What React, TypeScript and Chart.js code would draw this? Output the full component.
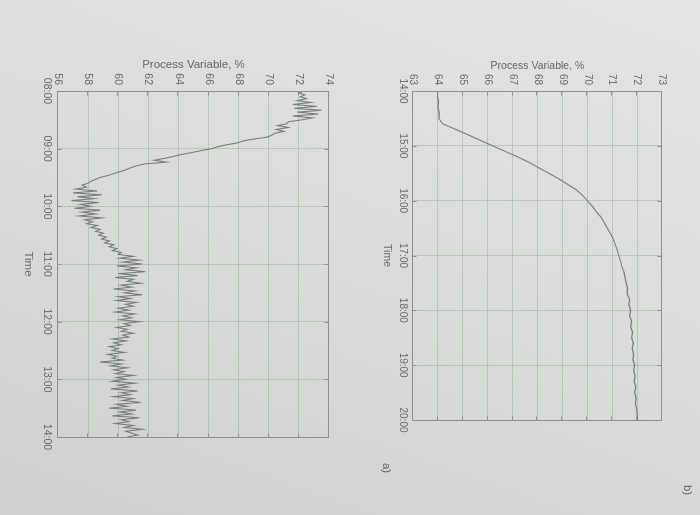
import React, { useEffect, useRef } from "react";
import { Chart, registerables } from "chart.js";

Chart.register(...registerables);

// ---------- Data: chart a) ----------
const A_START_H = 14; // first sample, hours
const A_STEP_H = 0.1; // sample interval, hours (6 min)
const A_PV = [
  64.0, 63.98, 64.03, 64.0, 64.06, 64.04, 64.2, 64.72, 65.22, 65.7,
  66.2, 66.7, 67.2, 67.65, 68.05, 68.45, 68.85, 69.2, 69.55, 69.8,
  70.0, 70.2, 70.36, 70.55, 70.68, 70.8, 70.93, 71.04, 71.12, 71.2,
  71.26, 71.33, 71.38, 71.47, 71.52, 71.56, 71.62, 71.6, 71.7, 71.67,
  71.74, 71.7, 71.78, 71.74, 71.82, 71.78, 71.85, 71.8, 71.86, 71.83,
  71.9, 71.86, 71.92, 71.88, 71.95, 71.9, 71.96, 71.93, 71.98, 72.0,
  72.02,
];
const A_TIME_TICKS = [14, 15, 16, 17, 18, 19, 20];
const A_TIME_LABELS = ["14:00", "15:00", "16:00", "17:00", "18:00", "19:00", "20:00"];
const A_PV_MIN = 63;
const A_PV_MAX = 73;
const A_PV_STEP = 1;

// ---------- Data: chart b) ----------
const B_START_H = 8;
const B_STEP_H = 2 / 60; // 2-minute samples
const B_PV = [
  72.3, 72.0, 72.4, 72.1, 72.5, 71.9, 72.8, 71.6, 73.2, 71.7,
  73.5, 71.9, 73.3, 71.6, 72.9, 72.2, 71.3, 71.2, 70.6, 71.3,
  70.5, 71.0, 70.4, 70.2, 69.9, 69.0, 68.3, 67.9, 67.2, 66.6,
  66.2, 65.5, 64.9, 64.2, 63.7, 63.1, 62.4, 63.2, 61.7, 61.2,
  60.8, 60.5, 60.1, 59.7, 59.3, 58.8, 58.5, 58.2, 58.0, 57.6,
  57.9, 57.2, 58.6, 57.0, 58.9, 57.3, 58.4, 56.9, 58.7, 57.5,
  58.2, 57.1, 58.8, 57.6, 58.5, 57.4, 58.9, 57.8, 58.3, 57.9,
  58.6, 58.2, 58.8, 58.5, 59.0, 58.7, 59.2, 58.9, 59.4, 59.1,
  59.7, 59.4, 59.9, 59.6, 60.2, 60.0, 61.0, 60.1, 61.4, 60.3,
  61.6, 59.9, 61.2, 60.5, 61.8, 60.0, 61.3, 59.8, 61.0, 60.6,
  61.5, 60.2, 60.9, 59.7, 61.1, 60.4, 61.6, 60.0, 60.8, 59.9,
  61.2, 60.5, 61.0, 60.0, 60.7, 59.8, 61.1, 60.3, 60.9, 60.1,
  61.4, 60.4, 60.8, 59.9, 60.6, 60.2, 61.0, 60.3, 60.7, 59.6,
  60.5, 59.7, 60.2, 59.4, 60.0, 59.6, 60.4, 59.3, 59.9, 59.6,
  60.3, 58.8, 60.2, 59.5, 60.6, 59.7, 60.4, 59.8, 61.0, 59.9,
  60.5, 59.6, 61.1, 60.0, 60.7, 59.5, 61.3, 60.2, 60.8, 59.7,
  61.0, 60.3, 61.5, 59.9, 60.6, 59.4, 61.2, 60.1, 60.9, 59.6,
  61.4, 60.2, 60.7, 59.8, 61.0, 60.4, 61.6, 60.5, 60.9, 61.3,
  60.6,
];
const B_TIME_TICKS = [8, 9, 10, 11, 12, 13, 14];
const B_TIME_LABELS = ["08:00", "09:00", "10:00", "11:00", "12:00", "13:00", "14:00"];
const B_PV_MIN = 56;
const B_PV_MAX = 74;
const B_PV_STEP = 2;

const Y_TITLE = "Process Variable, %";
const X_TITLE = "Time";

// ---------- Styles ----------
const FONT = "'Liberation Sans', Arial, sans-serif";
const TEXT = "#666966";
const GRID = "rgba(135,140,135,0.33)";
const BOX = "#8d908d";
const LINE = "#7a7d7a";

const boxPlugin = {
  id: "matlabBox",
  afterDatasetsDraw(chart: any) {
    const { ctx, chartArea: a, scales } = chart;
    ctx.save();
    ctx.strokeStyle = BOX;
    ctx.lineWidth = 1;
    const l = Math.round(a.left) + 0.5;
    const t = Math.round(a.top) + 0.5;
    const r = Math.round(a.right) + 0.5;
    const b = Math.round(a.bottom) + 0.5;
    ctx.strokeRect(l, t, r - l, b - t);
    const L = 4;
    ctx.beginPath();
    scales.x.ticks.forEach((tk: any) => {
      const px = Math.round(scales.x.getPixelForValue(tk.value)) + 0.5;
      ctx.moveTo(px, b);
      ctx.lineTo(px, b - L);
      ctx.moveTo(px, t);
      ctx.lineTo(px, t + L);
    });
    scales.y.ticks.forEach((tk: any) => {
      const py = Math.round(scales.y.getPixelForValue(tk.value)) + 0.5;
      ctx.moveTo(l, py);
      ctx.lineTo(l + L, py);
      ctx.moveTo(r, py);
      ctx.lineTo(r - L, py);
    });
    ctx.stroke();
    ctx.restore();
  },
};

type Cfg = {
  start: number;
  step: number;
  values: number[];
  timeTicks: number[];
  timeLabels: string[];
  yMin: number;
  yMax: number;
  yStep: number;
  width: number;
  height: number;
  padTop: number;
  padRight: number;
  yAxisW: number;
  xAxisH: number;
  tickSize: number;
  titleSize: number;
  yTitlePad: number;
  xTitlePad: number;
  yTickPad: number;
  xTickPad: number;
  top: number;
};

function PVChart({ cfg }: { cfg: Cfg }) {
  const ref = useRef<HTMLCanvasElement | null>(null);
  useEffect(() => {
    if (!ref.current) return;
    const pts = cfg.values.map((v, i) => ({ x: cfg.start + i * cfg.step, y: v }));
    const chart = new Chart(ref.current, {
      type: "line",
      data: {
        datasets: [
          {
            data: pts,
            borderColor: LINE,
            borderWidth: 1.1,
            pointRadius: 0,
            tension: 0,
            fill: false,
          },
        ],
      },
      options: {
        animation: false,
        responsive: false,
        maintainAspectRatio: false,
        events: [],
        layout: { padding: { top: cfg.padTop, right: cfg.padRight, left: 0, bottom: 0 } },
        plugins: { legend: { display: false }, tooltip: { enabled: false } },
        scales: {
          x: {
            type: "linear",
            position: "bottom",
            min: cfg.timeTicks[0],
            max: cfg.timeTicks[cfg.timeTicks.length - 1],
            afterBuildTicks: (s: any) => {
              s.ticks = cfg.timeTicks.map((v) => ({ value: v }));
            },
            afterFit: (s: any) => {
              s.height = cfg.xAxisH;
            },
            ticks: {
              autoSkip: false,
              maxRotation: 0,
              minRotation: 0,
              padding: cfg.xTickPad,
              color: TEXT,
              font: { family: FONT, size: cfg.tickSize },
              callback: (v: any) => {
                const i = cfg.timeTicks.indexOf(Number(v));
                return i >= 0 ? cfg.timeLabels[i] : "";
              },
            },
            grid: { color: GRID, drawTicks: false, lineWidth: 1 },
            border: { display: false },
            title: {
              display: true,
              text: X_TITLE,
              color: TEXT,
              font: { family: FONT, size: cfg.titleSize },
              padding: { top: 0, bottom: cfg.xTitlePad },
            },
          },
          y: {
            type: "linear",
            position: "left",
            min: cfg.yMin,
            max: cfg.yMax,
            afterFit: (s: any) => {
              s.width = cfg.yAxisW;
            },
            ticks: {
              stepSize: cfg.yStep,
              padding: cfg.yTickPad,
              color: TEXT,
              font: { family: FONT, size: cfg.tickSize },
            },
            grid: { color: GRID, drawTicks: false, lineWidth: 1 },
            border: { display: false },
            title: {
              display: true,
              text: Y_TITLE,
              color: TEXT,
              font: { family: FONT, size: cfg.titleSize },
              padding: { top: cfg.yTitlePad, bottom: 0 },
            },
          },
        },
      },
      plugins: [boxPlugin],
    });
    return () => chart.destroy();
  }, [cfg]);
  return (
    <canvas
      ref={ref}
      width={cfg.width}
      height={cfg.height}
      style={{ position: "absolute", left: 0, top: cfg.top, width: cfg.width, height: cfg.height }}
    />
  );
}

const CFG_A: Cfg = {
  start: A_START_H,
  step: A_STEP_H,
  values: A_PV,
  timeTicks: A_TIME_TICKS,
  timeLabels: A_TIME_LABELS,
  yMin: A_PV_MIN,
  yMax: A_PV_MAX,
  yStep: A_PV_STEP,
  width: 515,
  height: 340,
  padTop: 38,
  padRight: 95,
  yAxisW: 91,
  xAxisH: 53,
  tickSize: 10,
  titleSize: 10.5,
  yTitlePad: 60,
  xTitlePad: 21,
  yTickPad: 6,
  xTickPad: 4,
  top: 0,
};

const CFG_B: Cfg = {
  start: B_START_H,
  step: B_STEP_H,
  values: B_PV,
  timeTicks: B_TIME_TICKS,
  timeLabels: B_TIME_LABELS,
  yMin: B_PV_MIN,
  yMax: B_PV_MAX,
  yStep: B_PV_STEP,
  width: 515,
  height: 360,
  padTop: 31,
  padRight: 78,
  yAxisW: 91,
  xAxisH: 58,
  tickSize: 10.5,
  titleSize: 11.5,
  yTitlePad: 58,
  xTitlePad: 21,
  yTickPad: 6,
  xTickPad: 5,
  top: 340,
};

const labelStyle = (x: number, y: number): React.CSSProperties => ({
  position: "absolute",
  left: x,
  top: y,
  transform: "translate(-50%, -50%)",
  fontFamily: FONT,
  fontSize: 11.5,
  color: "#5f625f",
  whiteSpace: "nowrap",
});

export default function App() {
  return (
    <div
      style={{
        position: "fixed",
        left: 0,
        top: 0,
        width: 700,
        height: 515,
        overflow: "hidden",
        background: "linear-gradient(200deg, #e3e5e2 0%, #d9dcd8 50%, #ced1cd 100%)",
      }}
    >
      <div
        style={{
          position: "absolute",
          left: 0,
          top: 0,
          width: 515,
          height: 700,
          transformOrigin: "0 0",
          transform: "translateX(700px) rotate(90deg)",
        }}
      >
        <PVChart cfg={CFG_A} />
        <PVChart cfg={CFG_B} />
        <div style={labelStyle(468, 313)}>a)</div>
        <div style={labelStyle(490, 12)}>b)</div>
      </div>
    </div>
  );
}
